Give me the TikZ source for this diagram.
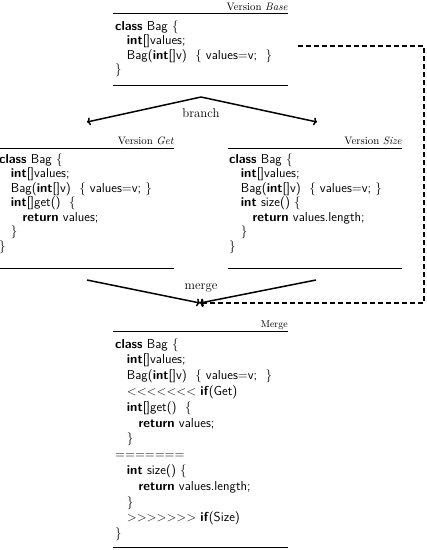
\documentclass[tikz,border=0pt]{standalone}
\usetikzlibrary{arrows.meta}
\newcommand\ind{\hspace*{11.7pt}}
\newcommand\kw[1]{\textbf{#1}}
\newcommand\codeset[1]{\sffamily\fontsize{13pt}{#1}\selectfont}
\begin{document}
\begin{tikzpicture}[x=1pt,y=-1pt,
  rulel/.style={line width=0.8pt},
  flow/.style={line width=1.5pt,-{To[length=3.5pt,width=8pt]}},
  dashflow/.style={line width=2pt,dash pattern=on 5pt off 3pt,-{To[length=3.5pt,width=8pt]}},
  hdr/.style={anchor=base east,inner sep=0pt,font=\fontsize{10.8pt}{13pt}\selectfont},
  lbl/.style={inner sep=0pt,font=\fontsize{12.8pt}{15pt}\selectfont},
  code/.style={anchor=base west,inner sep=0pt}]
\useasboundingbox (0,0) rectangle (427,550);

% Base
\node[hdr] (hbase) at (288,10) {Version \textit{Base}};
\draw[rulel] (113,13) -- (288,13);
\node[code] (cbase) at (115,30) {\begin{minipage}[t]{175pt}\codeset{14.5pt}%
\kw{class} Bag \{\\
\ind\kw{int}[]values;\\
\ind Bag(\kw{int}[]v)\ \ \{ values=v;\ \ \}\\
\}\end{minipage}};
\draw[rulel] (113,85) -- (288,85);

% branch
\coordinate (apex) at (201,97);
\coordinate (brL) at (87,122);
\coordinate (brR) at (317,122);
\draw[flow] (apex) -- (brL);
\draw[flow] (apex) -- (brR);
\node[lbl] (blabel) at (201,113) {branch};

% Get
\node[hdr] (hget) at (174,144.5) {Version \textit{Get}};
\draw[rulel] (0,148) -- (174,148);
\node[code] (cget) at (-1,163) {\begin{minipage}[t]{180pt}\codeset{14.5pt}%
\kw{class} Bag \{\\
\ind\kw{int}[]values;\\
\ind Bag(\kw{int}[]v)\ \ \{ values=v; \}\\
\ind\kw{int}[]get()\ \ \{\\
\ind\ind\kw{return} values;\\
\ind\}\\
\}\end{minipage}};
\draw[rulel] (0,268) -- (174,268);

% Size
\node[hdr] (hsize) at (402,144.5) {Version \textit{Size}};
\draw[rulel] (228,148) -- (402,148);
\node[code] (csize) at (229,163) {\begin{minipage}[t]{180pt}\codeset{14.5pt}%
\kw{class} Bag \{\\
\ind\kw{int}[]values;\\
\ind Bag(\kw{int}[]v)\ \ \{ values=v; \}\\
\ind\kw{int} size() \{\\
\ind\ind\kw{return} values.length;\\
\ind\}\\
\}\end{minipage}};
\draw[rulel] (228,268) -- (402,268);

% merge arrows
\coordinate (mL) at (87,280);
\coordinate (mR) at (316,280);
\coordinate (mpt) at (200,303);
\coordinate (dS) at (298,46);
\coordinate (dC1) at (424,46);
\coordinate (dC2) at (424,303);
\draw[flow] (mL) -- (mpt);
\draw[flow] (mR) -- (mpt);
\draw[dashflow] (dS) -- (dC1) -- (dC2) -- (mpt);
\node[lbl] (mlabel) at (201,288) {merge};

% Merge
\node[hdr,font=\fontsize{10pt}{12pt}\selectfont] (hmerge) at (288,327) {Merge};
\draw[rulel] (113,331) -- (288,331);
\node[code] (cmerge) at (115,348) {\begin{minipage}[t]{180pt}\codeset{15.8pt}%
\kw{class} Bag \{\\
\ind\kw{int}[]values;\\
\ind Bag(\kw{int}[]v)\ \ \{ values=v;\ \ \}\\
\ind <{}<{}<{}<{}<{}<{}< \kw{if}(Get)\\
\ind\kw{int}[]get()\ \ \{\\
\ind\ind\kw{return} values;\\
\ind\}\\
=======\\
\ind\kw{int} size() \{\\
\ind\ind\kw{return} values.length;\\
\ind\}\\
\ind >{}>{}>{}>{}>{}>{}> \kw{if}(Size)\\
\}\end{minipage}};
\draw[rulel] (113,547) -- (288,547);
\end{tikzpicture}
\end{document}
